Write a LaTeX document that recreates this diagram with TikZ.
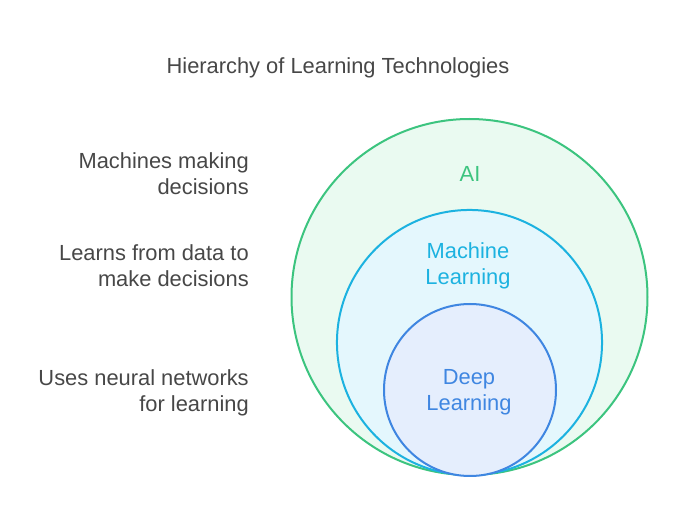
\documentclass[tikz,border=0pt]{standalone}
\usepackage{fontspec}
\setmainfont{Liberation Sans}

\definecolor{ailine}{HTML}{3CC47F}
\definecolor{aifill}{HTML}{EAFAF1}
\definecolor{mlline}{HTML}{1CB2E0}
\definecolor{mlfill}{HTML}{E4F7FD}
\definecolor{dlline}{HTML}{3F86E1}
\definecolor{dlfill}{HTML}{E5EEFD}
\definecolor{txtgray}{HTML}{474747}

\tikzset{
    ring/.style={line width=1.5pt},
    txt/.style={font=\fontsize{16.4}{19.5}\selectfont, inner sep=0pt},
    sidetxt/.style={txt, text=txtgray, align=right, anchor=east},
    ringtxt/.style={txt, align=center}
}

\begin{document}
\begin{tikzpicture}[x=0.75pt, y=-0.75pt]

    \useasboundingbox (0,0) rectangle (676,531);

    % Title
    \node[txt, text=txtgray] (title) at (338,68) {Hierarchy of Learning Technologies};

    %% Nested circles
    % AI
    \draw[ring, draw=ailine, fill=aifill] (469.5,297) circle[radius=133.5pt];
    % Machine learning
    \draw[ring, draw=mlline, fill=mlfill] (469.5,342.5) circle[radius=99.4pt];
    % Deep learning
    \draw[ring, draw=dlline, fill=dlfill] (470,390) circle[radius=64.5pt];

    % Circle labels
    \node[ringtxt, text=ailine] (ai) at (470,174) {AI};
    \node[ringtxt, text=mlline] (ml) at (468,265.5) {Machine\\Learning};
    \node[ringtxt, text=dlline] (dl) at (469,392.5) {Deep\\Learning};

    % Descriptions
    \node[sidetxt] (aidesc) at (249,173.5) {Machines making\\decisions};
    \node[sidetxt] (mldesc) at (249,265.5) {Learns from data to\\make decisions};
    \node[sidetxt] (dldesc) at (249,392.5) {Uses neural networks\\for learning};

\end{tikzpicture}
\end{document}
